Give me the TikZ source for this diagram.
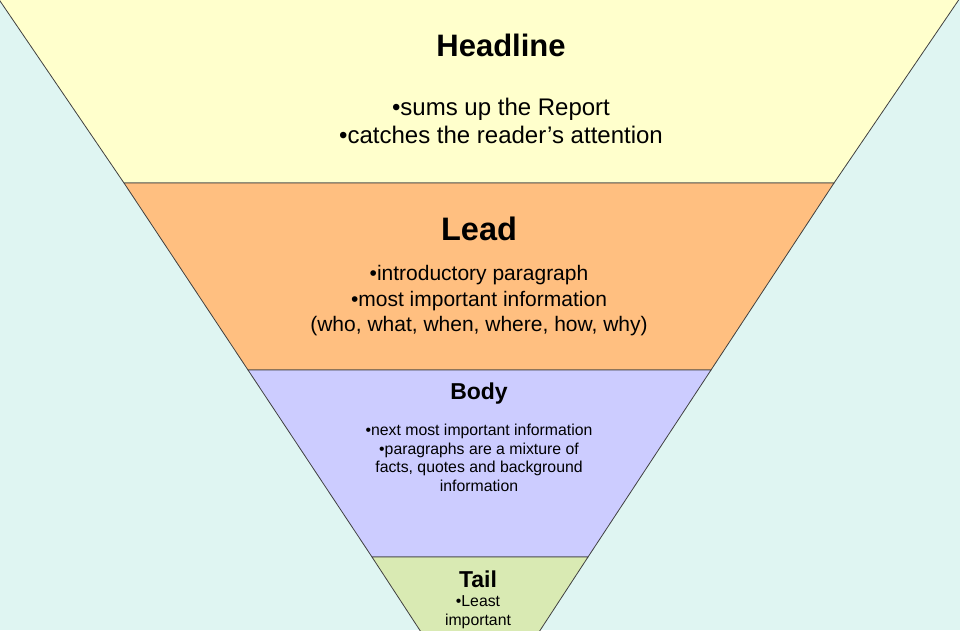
\documentclass[tikz,border=0pt]{standalone}
\usepackage{fontspec}
\setmainfont{Liberation Sans}
\definecolor{bg}{HTML}{DFF5F2}
\definecolor{cy}{HTML}{FFFFCC}
\definecolor{co}{HTML}{FFBF80}
\definecolor{cb}{HTML}{CCCCFF}
\definecolor{cg}{HTML}{D9EAB3}
\tikzset{band/.style={draw=black!75,line width=0.8pt},
 title/.style={font=\bfseries},
 txt/.style={align=center}}
\begin{document}
\begin{tikzpicture}[x=1pt,y=-1pt]
\fill[bg] (0,0) rectangle (960,630);
\useasboundingbox (0,0) rectangle (960,630);
\filldraw[band,fill=cy] (-2,-2) -- (960,-2) -- (834,183) -- (124,183) -- cycle;
\filldraw[band,fill=co] (124,183) -- (834,183) -- (711,370) -- (248,370) -- cycle;
\filldraw[band,fill=cb] (248,370) -- (711,370) -- (588,557) -- (372,557) -- cycle;
\filldraw[band,fill=cg] (372,557) -- (588,557) -- (539,632) -- (421,632) -- cycle;
\node[font=\fontsize{31}{36}\selectfont\bfseries] (h) at (501,45) {Headline};
\node[txt,font=\fontsize{24}{28.5}\selectfont] (ht) at (501,121) {•sums up the Report\\•catches the reader’s attention};
\node[font=\fontsize{32.5}{38}\selectfont\bfseries] (l) at (479,229) {Lead};
\node[txt,font=\fontsize{21}{25.5}\selectfont] (lt) at (479,301) {•introductory paragraph\\•most important information\\(who, what, when, where, how, why)};
\node[font=\fontsize{23}{27}\selectfont\bfseries] (b) at (479,394) {Body};
\node[txt,font=\fontsize{15.8}{18.5}\selectfont] (bt) at (479,458) {•next most important information\\•paragraphs are a mixture of\\facts, quotes and background\\information};
\node[font=\fontsize{23}{27}\selectfont\bfseries] (t) at (478,579) {Tail};
\node[txt,font=\fontsize{15.8}{18.5}\selectfont] (tt) at (478,612) {•Least\\important};
\end{tikzpicture}
\end{document}
